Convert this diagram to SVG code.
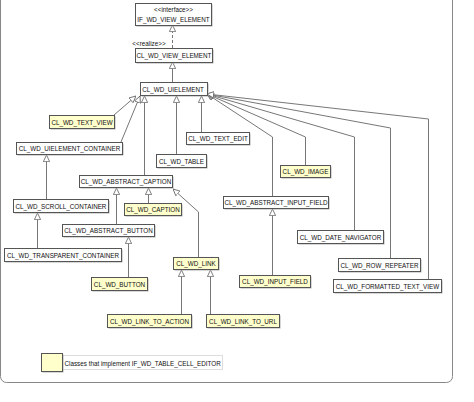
<svg xmlns="http://www.w3.org/2000/svg" width="474" height="402" viewBox="0 0 474 402">
<style>
text{font-family:"Liberation Sans",Arial,sans-serif;font-size:6.3px;fill:#111;text-anchor:middle}
.b{fill:#fff;stroke:#555;stroke-width:1}
.y{fill:#ffffcc;stroke:#555;stroke-width:1}
.s{fill:#b0b0b0;stroke:none}
.c{fill:none;stroke:#777;stroke-width:1}
.d{stroke-dasharray:3,2}
</style>
<defs>
<marker id="g" viewBox="0 0 10 10" refX="10" refY="5" markerWidth="7" markerHeight="7" markerUnits="userSpaceOnUse" orient="auto">
<path d="M0.5,0.5 L10,5 L0.5,9.5 z" fill="#fff" stroke="#666" stroke-width="1.2"/>
</marker>
</defs>
<rect x="0.5" y="-10" width="452" height="392.5" rx="6" fill="#fff" stroke="#888"/>
<g id="connectors">
<path class="c d" d="M172.5,48 V25" marker-end="url(#g)"/>
<path class="c" d="M172.5,82 V62" marker-end="url(#g)"/>
<path class="c" d="M114,115 L136,96" marker-end="url(#g)"/>
<path class="c" d="M121,142 L140,96" marker-end="url(#g)"/>
<path class="c" d="M144.5,175 V96" marker-end="url(#g)"/>
<path class="c" d="M176.5,154 V96" marker-end="url(#g)"/>
<path class="c" d="M201.5,132 V96" marker-end="url(#g)"/>
<path class="c" d="M272.5,196 V137 L207,94" marker-end="url(#g)"/>
<path class="c" d="M305.5,165 V137 L207,94" marker-end="url(#g)"/>
<path class="c" d="M354.5,230 V137 L207,94" marker-end="url(#g)"/>
<path class="c" d="M390.5,258 V128 L207,94" marker-end="url(#g)"/>
<path class="c" d="M428.5,279 V119 L207,94" marker-end="url(#g)"/>
<path class="c" d="M46.5,199 V155" marker-end="url(#g)"/>
<path class="c" d="M37.5,248 V213" marker-end="url(#g)"/>
<path class="c" d="M116.5,224 V188" marker-end="url(#g)"/>
<path class="c" d="M148.5,203 V188" marker-end="url(#g)"/>
<path class="c" d="M198.5,257 V212 L173,189" marker-end="url(#g)"/>
<path class="c" d="M128.5,277 V237" marker-end="url(#g)"/>
<path class="c" d="M272.5,275 V209" marker-end="url(#g)"/>
<path class="c" d="M181.5,314 V270" marker-end="url(#g)"/>
<path class="c" d="M210.5,314 V270" marker-end="url(#g)"/>
</g>
<text x="149" y="45.5">&lt;&lt;realize&gt;&gt;</text>
<g id="IF_WD_VIEW_ELEMENT"><rect class="s" x="136.5" y="4.5" width="76" height="22"/><rect class="b" x="135.5" y="3.5" width="76" height="22"/><text x="173.5" y="11.5" font-size="5.6">&lt;&lt;interface&gt;&gt;</text><text x="173.5" y="21.5">IF_WD_VIEW_ELEMENT</text></g>
<g id="CL_WD_VIEW_ELEMENT"><rect class="s" x="136.5" y="49.5" width="77" height="14"/><rect class="b" x="135.5" y="48.5" width="77" height="14"/><text x="174" y="58">CL_WD_VIEW_ELEMENT</text></g>
<g id="CL_WD_UIELEMENT"><rect class="s" x="141.5" y="83.5" width="67" height="13"/><rect class="b" x="140.5" y="82.5" width="67" height="13"/><text x="173" y="91.5">CL_WD_UIELEMENT</text></g>
<g id="CL_WD_TEXT_VIEW"><rect class="s" x="50.5" y="116.5" width="65" height="13"/><rect class="y" x="49.5" y="115.5" width="65" height="13"/><text x="82" y="124.5">CL_WD_TEXT_VIEW</text></g>
<g id="CL_WD_UIELEMENT_CONTAINER"><rect class="s" x="17.5" y="143.5" width="106" height="12"/><rect class="b" x="16.5" y="142.5" width="106" height="12"/><text x="69.5" y="151">CL_WD_UIELEMENT_CONTAINER</text></g>
<g id="CL_WD_TEXT_EDIT"><rect class="s" x="187.5" y="133.5" width="63" height="12"/><rect class="b" x="186.5" y="132.5" width="63" height="12"/><text x="218" y="141">CL_WD_TEXT_EDIT</text></g>
<g id="CL_WD_TABLE"><rect class="s" x="157.5" y="155.5" width="50" height="13"/><rect class="b" x="156.5" y="154.5" width="50" height="13"/><text x="181.5" y="163.5">CL_WD_TABLE</text></g>
<g id="CL_WD_IMAGE"><rect class="s" x="281.5" y="166.5" width="50" height="12"/><rect class="y" x="280.5" y="165.5" width="50" height="12"/><text x="305.5" y="174">CL_WD_IMAGE</text></g>
<g id="CL_WD_ABSTRACT_CAPTION"><rect class="s" x="80.5" y="176.5" width="93" height="12"/><rect class="b" x="79.5" y="175.5" width="93" height="12"/><text x="126" y="184">CL_WD_ABSTRACT_CAPTION</text></g>
<g id="CL_WD_SCROLL_CONTAINER"><rect class="s" x="14.5" y="200.5" width="95" height="13"/><rect class="b" x="13.5" y="199.5" width="95" height="13"/><text x="61" y="208.5">CL_WD_SCROLL_CONTAINER</text></g>
<g id="CL_WD_CAPTION"><rect class="s" x="125.5" y="204.5" width="57" height="12"/><rect class="y" x="124.5" y="203.5" width="57" height="12"/><text x="153" y="212">CL_WD_CAPTION</text></g>
<g id="CL_WD_ABSTRACT_INPUT_FIELD"><rect class="s" x="224.5" y="197.5" width="105" height="12"/><rect class="b" x="223.5" y="196.5" width="105" height="12"/><text x="276" y="205">CL_WD_ABSTRACT_INPUT_FIELD</text></g>
<g id="CL_WD_ABSTRACT_BUTTON"><rect class="s" x="63.5" y="225.5" width="92" height="12"/><rect class="b" x="62.5" y="224.5" width="92" height="12"/><text x="108.5" y="233">CL_WD_ABSTRACT_BUTTON</text></g>
<g id="CL_WD_DATE_NAVIGATOR"><rect class="s" x="298.5" y="231.5" width="86" height="13"/><rect class="b" x="297.5" y="230.5" width="86" height="13"/><text x="340.5" y="239.5">CL_WD_DATE_NAVIGATOR</text></g>
<g id="CL_WD_TRANSPARENT_CONTAINER"><rect class="s" x="5.5" y="249.5" width="117" height="13"/><rect class="b" x="4.5" y="248.5" width="117" height="13"/><text x="63" y="257.5">CL_WD_TRANSPARENT_CONTAINER</text></g>
<g id="CL_WD_LINK"><rect class="s" x="174.5" y="258.5" width="45" height="12"/><rect class="y" x="173.5" y="257.5" width="45" height="12"/><text x="196" y="266">CL_WD_LINK</text></g>
<g id="CL_WD_ROW_REPEATER"><rect class="s" x="339.5" y="259.5" width="82" height="13"/><rect class="b" x="338.5" y="258.5" width="82" height="13"/><text x="379.5" y="267.5">CL_WD_ROW_REPEATER</text></g>
<g id="CL_WD_INPUT_FIELD"><rect class="s" x="240.5" y="276.5" width="71" height="12"/><rect class="y" x="239.5" y="275.5" width="71" height="12"/><text x="275" y="284">CL_WD_INPUT_FIELD</text></g>
<g id="CL_WD_BUTTON"><rect class="s" x="92.5" y="278.5" width="56" height="13"/><rect class="y" x="91.5" y="277.5" width="56" height="13"/><text x="119.5" y="286.5">CL_WD_BUTTON</text></g>
<g id="CL_WD_FORMATTED_TEXT_VIEW"><rect class="s" x="334.5" y="280.5" width="108" height="13"/><rect class="b" x="333.5" y="279.5" width="108" height="13"/><text x="387.5" y="288.5">CL_WD_FORMATTED_TEXT_VIEW</text></g>
<g id="CL_WD_LINK_TO_ACTION"><rect class="s" x="108.5" y="315.5" width="84" height="13"/><rect class="y" x="107.5" y="314.5" width="84" height="13"/><text x="149.5" y="323.5">CL_WD_LINK_TO_ACTION</text></g>
<g id="CL_WD_LINK_TO_URL"><rect class="s" x="207.5" y="315.5" width="73" height="13"/><rect class="y" x="206.5" y="314.5" width="73" height="13"/><text x="243" y="323.5">CL_WD_LINK_TO_URL</text></g>
<g id="legend">
<rect x="62.5" y="355.5" width="160" height="14" fill="#fff" stroke="#ddd"/>
<rect class="s" x="42.5" y="354.5" width="21" height="18"/>
<rect class="y" x="41.5" y="353.5" width="21" height="18"/>
<text x="64.5" y="365.5" style="text-anchor:start">Classes that implement IF_WD_TABLE_CELL_EDITOR</text>
</g>
</svg>
